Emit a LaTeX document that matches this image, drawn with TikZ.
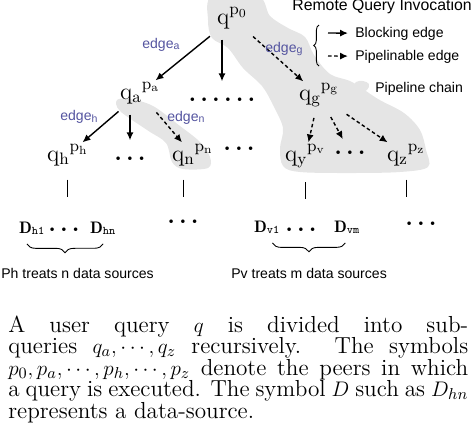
\documentclass[tikz,border=0pt]{standalone}
\usepackage{fontspec}
\newfontfamily\labelfont{Liberation Sans}
\usetikzlibrary{arrows.meta, calc, decorations.pathreplacing}
\definecolor{chaingray}{gray}{0.9}
\definecolor{edgeblue}{RGB}{85,85,160}
\newcommand{\capfill}[1]{\makebox[9.2cm][s]{#1}}

\begin{document}
\begin{tikzpicture}[x=0.02cm, y=-0.02cm,
    query/.style={anchor=base west, inner sep=1pt, font=\fontsize{13.5}{14}\selectfont},
    dotrow/.style={anchor=base, inner sep=1pt, font=\fontsize{14}{14}\selectfont\bfseries},
    source/.style={anchor=base west, inner sep=1pt, font=\fontsize{9.5}{10}\selectfont},
    lbl/.style={anchor=base west, inner sep=0pt, font=\labelfont\fontsize{8}{9}\selectfont},
    edgelbl/.style={lbl, text=edgeblue},
    capline/.style={anchor=base west, inner sep=0pt, font=\fontsize{13.2}{14}\selectfont},
    blocking/.style={-{Latex[length=4.5pt,width=4pt]}, line width=0.8pt},
    pipelined/.style={blocking, dash pattern=on 2pt off 1.5pt},
    link/.style={line width=0.5pt},
    chain/.style={fill=chaingray},
    underbrace/.style={decorate, decoration={brace, mirror, amplitude=5pt}, line width=0.5pt}]
    \useasboundingbox (0,0) rectangle (474,427);
    \clip (0,0) rectangle (474,427);
    % pipeline chains
    \fill[chain] plot[smooth cycle, tension=0.55] coordinates {(212,-4) (258,-4) (270,16) (288,28) (305,37) (314,55) (330,74) (352,82) (378,99) (404,113) (420,130) (426,150) (428,167) (400,172) (350,173) (300,172) (283,166) (280,148) (283,128) (273,105) (262,86) (243,68) (228,48) (212,38) (208,20)};
    \fill[chain] plot[smooth cycle, tension=0.55] coordinates {(117,100) (130,99) (153,106) (180,126) (200,142) (210,157) (208,168) (183,169) (172,162) (166,143) (147,130) (120,111)};

    % legend
    \node[lbl, font=\labelfont\fontsize{9}{10}\selectfont] (title) at (292,10) {Remote Query Invocation};
    \node[lbl] (blk) at (355,37) {Blocking edge};
    \node[lbl] (ppl) at (355,60) {Pipelinable edge};
    \node[lbl] (chn) at (375,92) {Pipeline chain};
    \coordinate (blkfrom) at (328,33);
    \coordinate (pplfrom) at (328,56);
    \draw[blocking, shorten >=4pt] (blkfrom) -- (blk);
    \draw[pipelined, shorten >=4pt] (pplfrom) -- (ppl);
    \draw[decorate, decoration={brace, amplitude=3pt}, line width=0.5pt] (319,66) -- (319,25);
    \fill[chain] plot[smooth cycle, tension=0.6] coordinates {(353,88) (356,82) (363,81) (369,84) (367,90) (358,92)};

    % queries
    \node[query] (q0) at (215,24) {$\mathrm{q}^{\mathrm{p}_0}$};
    \node[query] (qa) at (118,99) {$\mathrm{q}_{\mathrm{a}}{}^{\mathrm{p}_{\mathrm{a}}}$};
    \node[query] (qg) at (297,100) {$\mathrm{q}_{\mathrm{g}}{}^{\mathrm{p}_{\mathrm{g}}}$};
    \node[query] (qh) at (45,161) {$\mathrm{q}_{\mathrm{h}}{}^{\mathrm{p}_{\mathrm{h}}}$};
    \node[query] (qn) at (170,161) {$\mathrm{q}_{\mathrm{n}}{}^{\mathrm{p}_{\mathrm{n}}}$};
    \node[query] (qy) at (283,161) {$\mathrm{q}_{\mathrm{y}}{}^{\mathrm{p}_{\mathrm{v}}}$};
    \node[query] (qz) at (385,161) {$\mathrm{q}_{\mathrm{z}}{}^{\mathrm{p}_{\mathrm{z}}}$};
    \node[dotrow] (d1) at (222,101) {.\,.\,.\,.\,.\,.};
    \node[dotrow] (d2) at (130,160) {.\,.\,.};
    \node[dotrow] (d3) at (239,150) {.\,.\,.};
    \node[dotrow] (d4) at (350,154) {.\,.\,.};

    % data sources
    \node[source] (dh1) at (17,233) {$\mathbf{D}_{\mathtt{h1}}$};
    \node[dotrow] (dh) at (64,231) {.\,.\,.};
    \node[source] (dhn) at (88,233) {$\mathbf{D}_{\mathtt{hn}}$};
    \node[dotrow] (dn) at (183,223) {.\,.\,.};
    \node[source] (dv1) at (252,232) {$\mathbf{D}_{\mathtt{v1}}$};
    \node[dotrow] (dv) at (301,231) {.\,.\,.};
    \node[source] (dvm) at (332,232) {$\mathbf{D}_{\mathtt{vm}}$};
    \node[dotrow] (dz) at (421,225) {.\,.\,.};

    % edges
    \begin{scope}[shorten <=5pt]
    \draw[blocking] (q0) -- (qa);
    \draw[blocking, shorten >=8pt] (d1 |- q0.south) -- (d1);
    \draw[pipelined] (q0) -- (qg);
    \draw[blocking] (qa) -- (qh);
    \draw[blocking, shorten >=8pt] (d2 |- qa.south) -- (d2);
    \draw[pipelined] (qa) -- (qn);
    \draw[pipelined] (qg) -- (qy);
    \draw[pipelined, shorten >=6pt] (qg) -- (d4);
    \draw[pipelined] (qg) -- (qz);
    \end{scope}
    \node[edgelbl] (ea) at (142,48) {edge\textsubscript{a}};
    \node[edgelbl] (eg) at (265,52) {edge\textsubscript{g}};
    \node[edgelbl] (eh) at (60,120) {edge\textsubscript{h}};
    \node[edgelbl] (en) at (167,121) {edge\textsubscript{n}};

    % links to the sources
    \draw[link] (qh.south) ++(0,12) -- ++(0,17);
    \draw[link] (qn.south -| dn) ++(0,12) -- ++(0,17);
    \draw[link] (qy.south) ++(0,12) -- ++(0,17);
    \draw[link] (qz.south) ++(0,12) -- ++(0,17);
    \draw[underbrace] ([xshift=-3pt,yshift=-4pt]dh1.south) -- ([yshift=-4pt]dhn.south);
    \draw[underbrace] ([xshift=3pt,yshift=-4pt]dv1.south) -- ([xshift=-1pt,yshift=-4pt]dvm.south);
    \node[lbl] (phtxt) at (1,278) {Ph treats n data sources};
    \node[lbl] (pvtxt) at (231,278) {Pv treats m data sources};

    % caption
    \node[capline] (cap1) at (8,332) {\capfill{A user query $q$ is divided into sub-}};
    \node[capline] (cap2) at (8,353) {\capfill{queries $q_a,\cdots,q_z$ recursively. The symbols}};
    \node[capline] (cap3) at (8,375) {\capfill{$p_0,p_a,\cdots,p_h,\cdots,p_z$ denote the peers in which}};
    \node[capline] (cap4) at (8,396) {\capfill{a query is executed. The symbol $D$ such as $D_{hn}$}};
    \node[capline] (cap5) at (8,418) {represents a data-source.};
\end{tikzpicture}
\end{document}
